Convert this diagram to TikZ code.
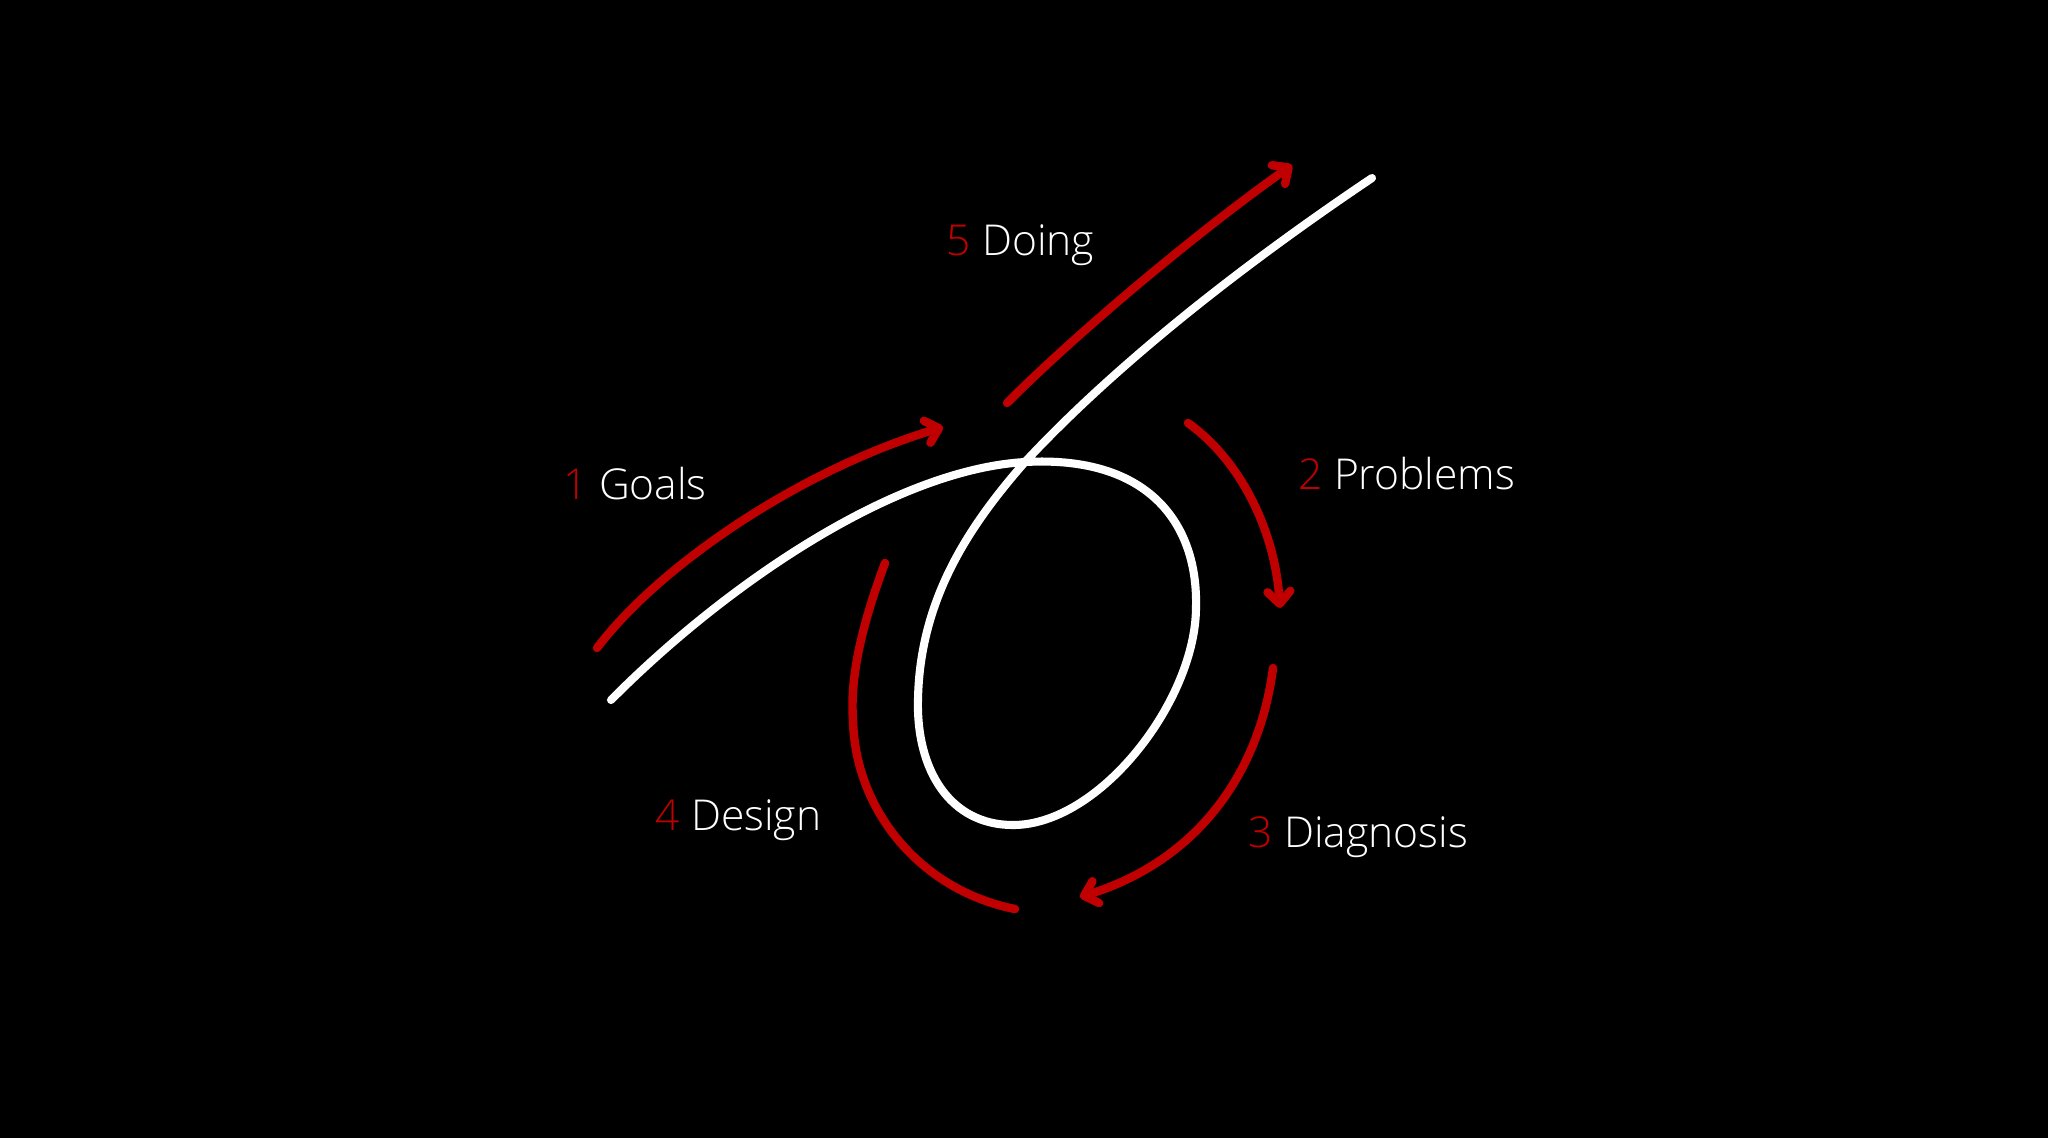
\documentclass[tikz,border=0pt]{standalone}
\usepackage{fontspec}
\setmainfont{Open Sans}[UprightFont={* Light}]
\usetikzlibrary{arrows.meta}
\definecolor{cyclered}{RGB}{192,0,0}
\begin{document}
\begin{tikzpicture}[x=0.01cm,y=-0.01cm,
    path line/.style={white,line width=2.3pt,line cap=round},
    cycle arrow/.style={cyclered,line width=2.4pt,line cap=round,
      -{Straight Barb[length=3.5pt,width=6.5pt,round]}},
    cycle part/.style={cyclered,line width=2.4pt,line cap=round},
    step label/.style={white,inner sep=0pt,anchor=base west,
      font=\fontsize{12.1}{14}\selectfont}]
  \fill[black] (0,0) rectangle (2048,1138);
  \useasboundingbox (0,0) rectangle (2048,1138);

  % the white path with its loop
  \coordinate (w-start) at (611,700);
  \coordinate (w-cross) at (1025,462);
  \coordinate (w-right) at (1196,607);
  \coordinate (w-bottom) at (1013,825);
  \coordinate (w-left) at (918,699);
  \coordinate (w-end) at (1372,178);
  \draw[path line] (w-start) .. controls (720,590) and (890,470) .. (w-cross)
    .. controls (1150,455) and (1198,525) .. (w-right)
    .. controls (1196,700) and (1100,825) .. (w-bottom)
    .. controls (950,825) and (916,770) .. (w-left)
    .. controls (920,600) and (968,527) .. (w-cross)
    .. controls (1120,360) and (1250,260) .. (w-end);

  % red arrows
  \coordinate (goals-s) at (597,648);
  \coordinate (goals-e) at (943,427);
  \coordinate (problems-s) at (1188,423);
  \coordinate (problems-e) at (1280,608);
  \coordinate (diagnosis-s) at (1273,668);
  \coordinate (diagnosis-e) at (1080,897);
  \coordinate (design-s) at (885,563);
  \coordinate (design-m) at (853,720);
  \coordinate (design-e) at (1015,909);
  \coordinate (doing-s) at (1007,403);
  \coordinate (doing-e) at (1292,165);

  \draw[cycle arrow] (goals-s) .. controls (660,565) and (800,470) .. (goals-e);
  \draw[cycle arrow] (problems-s) .. controls (1240,460) and (1275,530) .. (problems-e);
  \draw[cycle arrow] (diagnosis-s) .. controls (1260,770) and (1200,860) .. (diagnosis-e);
  \draw[cycle part] (design-s) .. controls (860,630) and (850,680) .. (design-m)
    .. controls (855,810) and (920,890) .. (design-e);
  \draw[cycle arrow] (doing-s) .. controls (1080,330) and (1200,230) .. (doing-e);

  % labels
  \node[step label] (goals) at (563,499) {\textcolor{cyclered}{1} Goals};
  \node[step label] (problems) at (1298,489) {\textcolor{cyclered}{2} Problems};
  \node[step label] (diagnosis) at (1248,847) {\textcolor{cyclered}{3} Diagnosis};
  \node[step label] (design) at (655,830) {\textcolor{cyclered}{4} Design};
  \node[step label] (doing) at (946,255) {\textcolor{cyclered}{5} Doing};
\end{tikzpicture}
\end{document}
